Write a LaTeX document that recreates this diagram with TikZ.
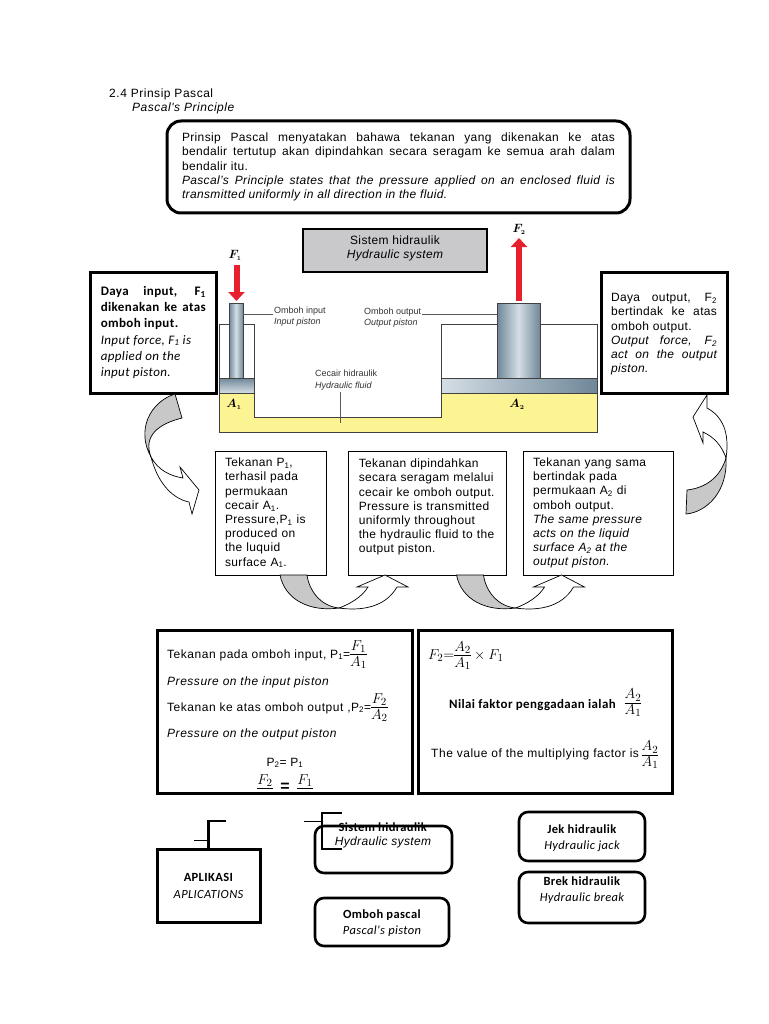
\documentclass[tikz,border=0pt]{standalone}
\usepackage{amsmath}
\usepackage{fontspec}
\setmainfont{Liberation Sans}[LetterSpace=3]
\newfontfamily\calibri{Carlito}[LetterSpace=3]
\newfontfamily\formfont{Liberation Sans}[LetterSpace=4.4]
\newfontfamily\labelfont{Liberation Sans}
\usepackage{tikz}
\usetikzlibrary{arrows.meta,positioning,calc}
\tolerance=9999
\hyphenpenalty=10000
\newcommand{\stackfrac}[2]{\vcenter{\offinterlineskip\halign{\hfil##\hfil\cr$#1$\cr\noalign{\kern1.5pt\hrule\kern2pt}$#2$\cr}}}
\definecolor{fluidyellow}{HTML}{FCF392}
\definecolor{boxgray}{HTML}{C9C9CB}
\definecolor{arrowgray}{HTML}{C8C8C8}
\definecolor{steeldark}{HTML}{6F8799}
\definecolor{steellight}{HTML}{D5DEE5}
\definecolor{forcered}{HTML}{E6202C}
\tikzset{
  % Text boxes, one pixel of the reference is one pt
  tbox/.style={draw, rectangle, outer sep=0pt, inner sep=0pt, line width=1pt, anchor=north west,
               font=\fontsize{12}{14.2}\selectfont},
  tbox-heavy/.style={tbox, line width=3pt},
  rbox/.style={tbox, line width=2.6pt, rounded corners=9pt, align=center,
               font=\calibri\fontsize{12.5}{16}\selectfont},
  % Loose text
  plain/.style={inner sep=0pt, anchor=base west, font=\formfont\fontsize{12}{14}\selectfont},
  plain-it/.style={plain, font=\formfont\itshape\fontsize{12}{14}\selectfont},
  tiny/.style={inner sep=0pt, anchor=base west, font=\labelfont\fontsize{9}{11}\selectfont, text=black!80},
  tiny-it/.style={tiny, font=\labelfont\itshape\fontsize{9}{11}\selectfont},
  symb/.style={inner sep=0pt, font=\fontsize{13}{14}\selectfont},
  mathbig/.style={inner sep=0pt, font=\fontsize{15}{18}\selectfont},
  % Piston drawing
  outline/.style={line width=0.8pt, draw=black!75},
  leader/.style={line width=0.6pt, draw=black!65},
  % Arrows
  forcearr/.style={draw=forcered, line width=6pt, -{Triangle[width=16pt,length=9pt]}},
  bentgray/.style={draw=black, line width=0.7pt, fill=arrowgray},
  bentwhite/.style={draw=black, line width=0.7pt, fill=white},
  bracket/.style={line width=2.4pt},
  bracket-tick/.style={line width=1pt}
}
\begin{document}
\begin{tikzpicture}[x=1pt,y=-1pt]
\useasboundingbox[fill=white] (0,0) rectangle (768,1024);

% Heading
\node[plain] (head) at (109,98) {2.4 Prinsip Pascal};
\node[plain-it] (headen) at (132,112) {Pascal's Principle};

% Statement box
\node[tbox-heavy, rounded corners=14pt, minimum width=463pt, minimum height=92pt, text width=433pt, align=justify] (rule) at (167,121)
  {Prinsip Pascal menyatakan bahawa tekanan yang dikenakan ke atas\linebreak
   bendalir tertutup akan dipindahkan secara seragam ke semua arah dalam\linebreak
   bendalir itu.\\
   \itshape Pascal's Principle states that the pressure applied on an enclosed fluid is\linebreak
   transmitted uniformly in all direction in the fluid.};

% Title box
\node[tbox, line width=2pt, fill=boxgray, minimum width=184pt, minimum height=43pt, align=center] (sys) at (303,229)
  {Sistem hidraulik\\\itshape Hydraulic system\rule[-6pt]{0pt}{0pt}};

% Hydraulic drawing
\path[fill=fluidyellow] (219,393) -- (219,432) -- (597,432) -- (597,393) -- (441,393) -- (441,417) -- (254,417) -- (254,393) -- cycle;
\draw[outline] (219,393) -- (219,432) -- (597,432) -- (597,393) -- (441,393) -- (441,417) -- (254,417) -- (254,393) -- cycle;
\draw[outline] (219,378) -- (219,324) -- (254,324) -- (254,378);
\draw[outline] (441,378) -- (441,324) -- (597,324) -- (597,378);
\shade[top color=steeldark, bottom color=steellight] (219,378) rectangle (254,393);
\draw[outline] (219,378) rectangle (254,393);
\shade[left color=steellight, right color=steeldark] (441,378) rectangle (597,393);
\draw[outline] (441,378) rectangle (597,393);
\shade[left color=steeldark, right color=steeldark, middle color=steellight] (229,303) rectangle (243,378);
\draw[outline] (229,303) rectangle (243,378);
\shade[left color=steeldark, right color=steeldark, middle color=steellight] (497,303) rectangle (540,378);
\draw[outline] (497,303) rectangle (540,378);

% Force arrows
\node[symb] (f1) at (235,255) {$\boldsymbol{F_{\scriptscriptstyle 1}}$};
\node[symb] (f2) at (519,229) {$\boldsymbol{F_{\scriptscriptstyle 2}}$};
\coordinate (f1a) at (236.5,265);
\coordinate (f1b) at (236.5,301);
\coordinate (f2a) at (519,301);
\coordinate (f2b) at (519,238);
\draw[forcearr] (f1a) -- (f1b);
\draw[forcearr] (f2a) -- (f2b);

% Drawing labels
\node[symb] (a1) at (234,404) {$\boldsymbol{A_{\scriptscriptstyle 1}}$};
\node[symb] (a2) at (517,404) {$\boldsymbol{A_{\scriptscriptstyle 2}}$};
\node[tiny] (inp) at (274,313) {Omboh input};
\node[tiny-it] (inpen) at (274,324) {Input piston};
\node[tiny] (outp) at (364,314) {Omboh output};
\node[tiny-it] (outpen) at (364,325) {Output piston};
\node[tiny] (flu) at (315,376) {Cecair hidraulik};
\node[tiny-it] (fluen) at (315,388) {Hydraulic fluid};
\coordinate (l1) at (243,314);
\coordinate (l2) at (273,314);
\coordinate (l3) at (422,314);
\coordinate (l4) at (497,314);
\coordinate (l5) at (340,392);
\coordinate (l6) at (340,423);
\draw[leader] (l1) -- (l2);
\draw[leader] (l3) -- (l4);
\draw[leader] (l5) -- (l6);

% Force boxes
\node[tbox-heavy, minimum width=126.5pt, minimum height=121pt, text width=105pt, align=justify,
      font=\calibri\fontsize{13}{16.3}\selectfont] (fin) at (90,272)
  {\textbf{Daya input, F\textsubscript{1}\linebreak dikenakan ke atas\linebreak omboh input.}\\
   \itshape Input force, F\textsubscript{1} is\\ applied on the\\ input piston.};
\node[tbox-heavy, minimum width=126pt, minimum height=121pt, text width=106pt, align=justify] (fout) at (601,272)
  {\rule{0pt}{12pt}Daya output, F\textsubscript{2}\linebreak bertindak ke atas\linebreak omboh output.\\
   \itshape Output force, F\textsubscript{2}\linebreak act on the output\linebreak piston.};

% Pressure boxes
\node[tbox, minimum width=111pt, minimum height=124pt, text width=91pt, align=left] (pa) at (215,451)
  {Tekanan P\textsubscript{1},\\terhasil pada\\permukaan\\cecair A\textsubscript{1}.\\Pressure,P\textsubscript{1} is\\produced on\\the luquid\\surface A\textsubscript{1}.};
\node[tbox, minimum width=157.5pt, minimum height=124pt, text width=137pt, align=left, right=22.5pt of pa] (pb)
  {Tekanan dipindahkan\\secara seragam melalui\\cecair ke omboh output.\\Pressure is transmitted\\uniformly throughout\\the hydraulic fluid to the\\output piston.\\~};
\node[tbox, minimum width=150pt, minimum height=124pt, text width=130pt, align=left, right=17pt of pb] (pc)
  {Tekanan yang sama\\bertindak pada\\permukaan A\textsubscript{2} di\\omboh output.\\\itshape The same pressure\\\itshape acts on the liquid\\\itshape surface A\textsubscript{2} at the\\\itshape output piston.};

% Bent arrows
\draw[bentgray] (175,394) .. controls (150,402) and (136,430) .. (151,457) .. controls (143,436) and (158,424) .. (182,418) -- cycle;
\draw[bentwhite] (151,457) .. controls (158,470) and (170,476) .. (183,478) -- (180,467) -- (199,490) -- (192,514) -- (189,502) .. controls (170,498) and (157,480) .. (151,457) -- cycle;
\foreach \dx in {0,176.5} {
  \begin{scope}[xshift=\dx pt]
    \draw[bentgray] (280,575) .. controls (285,600) and (310,612) .. (339,608) .. controls (320,606) and (309,590) .. (307,575) -- cycle;
    \draw[bentwhite] (339,608) .. controls (350,604) and (362,597) .. (368,587) -- (357,587) -- (385,575) -- (408,587) -- (397,587) .. controls (385,608) and (360,611) .. (339,608) -- cycle;
  \end{scope}
}
\draw[bentgray] (687,490) .. controls (705,488) and (720,478) .. (726,458) .. controls (728,490) and (708,512) .. (686,514) -- cycle;
\draw[bentwhite] (726,458) .. controls (730,432) and (722,416) .. (707,408) -- (707,395) -- (693,417) -- (703,443) -- (703,432) .. controls (714,437) and (722,446) .. (726,458) -- cycle;

% Formula boxes
\node[tbox-heavy, minimum width=255pt, minimum height=163pt] (fleft) at (157,630) {};
\node[tbox-heavy, minimum width=254pt, minimum height=163pt] (fright) at (418,630) {};

\node[plain] (t1) at (167,658) {Tekanan pada omboh input, P\textsubscript{1}={\fontsize{15}{18}\selectfont$\stackfrac{F_1}{A_1}$}};
\node[plain-it] (t2) at (167,685) {Pressure on the input piston};
\node[plain] (t3) at (167,711) {Tekanan ke atas omboh output ,P\textsubscript{2}={\fontsize{15}{18}\selectfont$\stackfrac{F_2}{A_2}$}};
\node[plain-it] (t4) at (167,737) {Pressure on the output piston};
\node[plain, anchor=base] (t5) at (285,766) {P\textsubscript{2}= P\textsubscript{1}};
\node[mathbig, anchor=base] (t6) at (265,784) {$\underline{F_2}$};
\node[plain, anchor=base, font=\labelfont\bfseries\fontsize{16}{18}\selectfont] (t7) at (285,791) {=};
\node[mathbig, anchor=base] (t8) at (305,784) {$\underline{F_1}$};

\node[mathbig, anchor=base west] (u1) at (428,659) {$F_2{=}\stackfrac{A_2}{A_1}\times F_1$};
\node[plain, font=\calibri\bfseries\fontsize{12.9}{14}\selectfont] (u2) at (449,708) {Nilai faktor penggadaan ialah};
\node[mathbig] (u3) at (633,703) {$\stackfrac{A_2}{A_1}$};
\node[plain] (u4) at (431,757) {The value of the multiplying factor is};
\node[mathbig] (u5) at (650,755) {$\stackfrac{A_2}{A_1}$};

% Applications
\node[tbox-heavy, minimum width=103pt, minimum height=73pt, align=center, font=\calibri\fontsize{12.5}{17}\selectfont] (app) at (157,849)
  {\textbf{APLIKASI}\\\itshape APLICATIONS};
\node[inner sep=0pt, align=center, font=\calibri\fontsize{12.5}{14}\selectfont] (hstext) at (383,835)
  {\textbf{Sistem hidraulik}\\{\normalfont\itshape\fontsize{12}{14}\selectfont Hydraulic system}};
\node[rbox, minimum width=137pt, minimum height=47pt] (hs) at (315,826) {};
\node[rbox, minimum width=134pt, minimum height=48pt] (op) at (315,898)
  {\rule{0pt}{10pt}\textbf{Omboh pascal}\\\itshape Pascal's piston};
\node[rbox, minimum width=126pt, minimum height=49pt] (jack) at (519,812)
  {\rule{0pt}{13pt}\textbf{Jek hidraulik}\\\itshape Hydraulic jack};
\node[rbox, minimum width=126pt, minimum height=51pt] (brake) at (519,872)
  {\textbf{Brek hidraulik}\\\itshape Hydraulic break\rule[-16pt]{0pt}{0pt}};

% Bracket lines
\coordinate (b1) at (226,821);
\coordinate (b2) at (194,840);
\draw[bracket] (app.north) |- (b1);
\draw[bracket-tick] (b2) -- (b2 -| app.north);
\coordinate (c1) at (342,813);
\coordinate (c2) at (342,849);
\coordinate (c3) at (322,813);
\coordinate (c4) at (304,821);
\draw[bracket] (c1) -- (c3) |- (c2);
\draw[bracket-tick] (c4) -- (c4 -| c3);
\end{tikzpicture}
\end{document}
